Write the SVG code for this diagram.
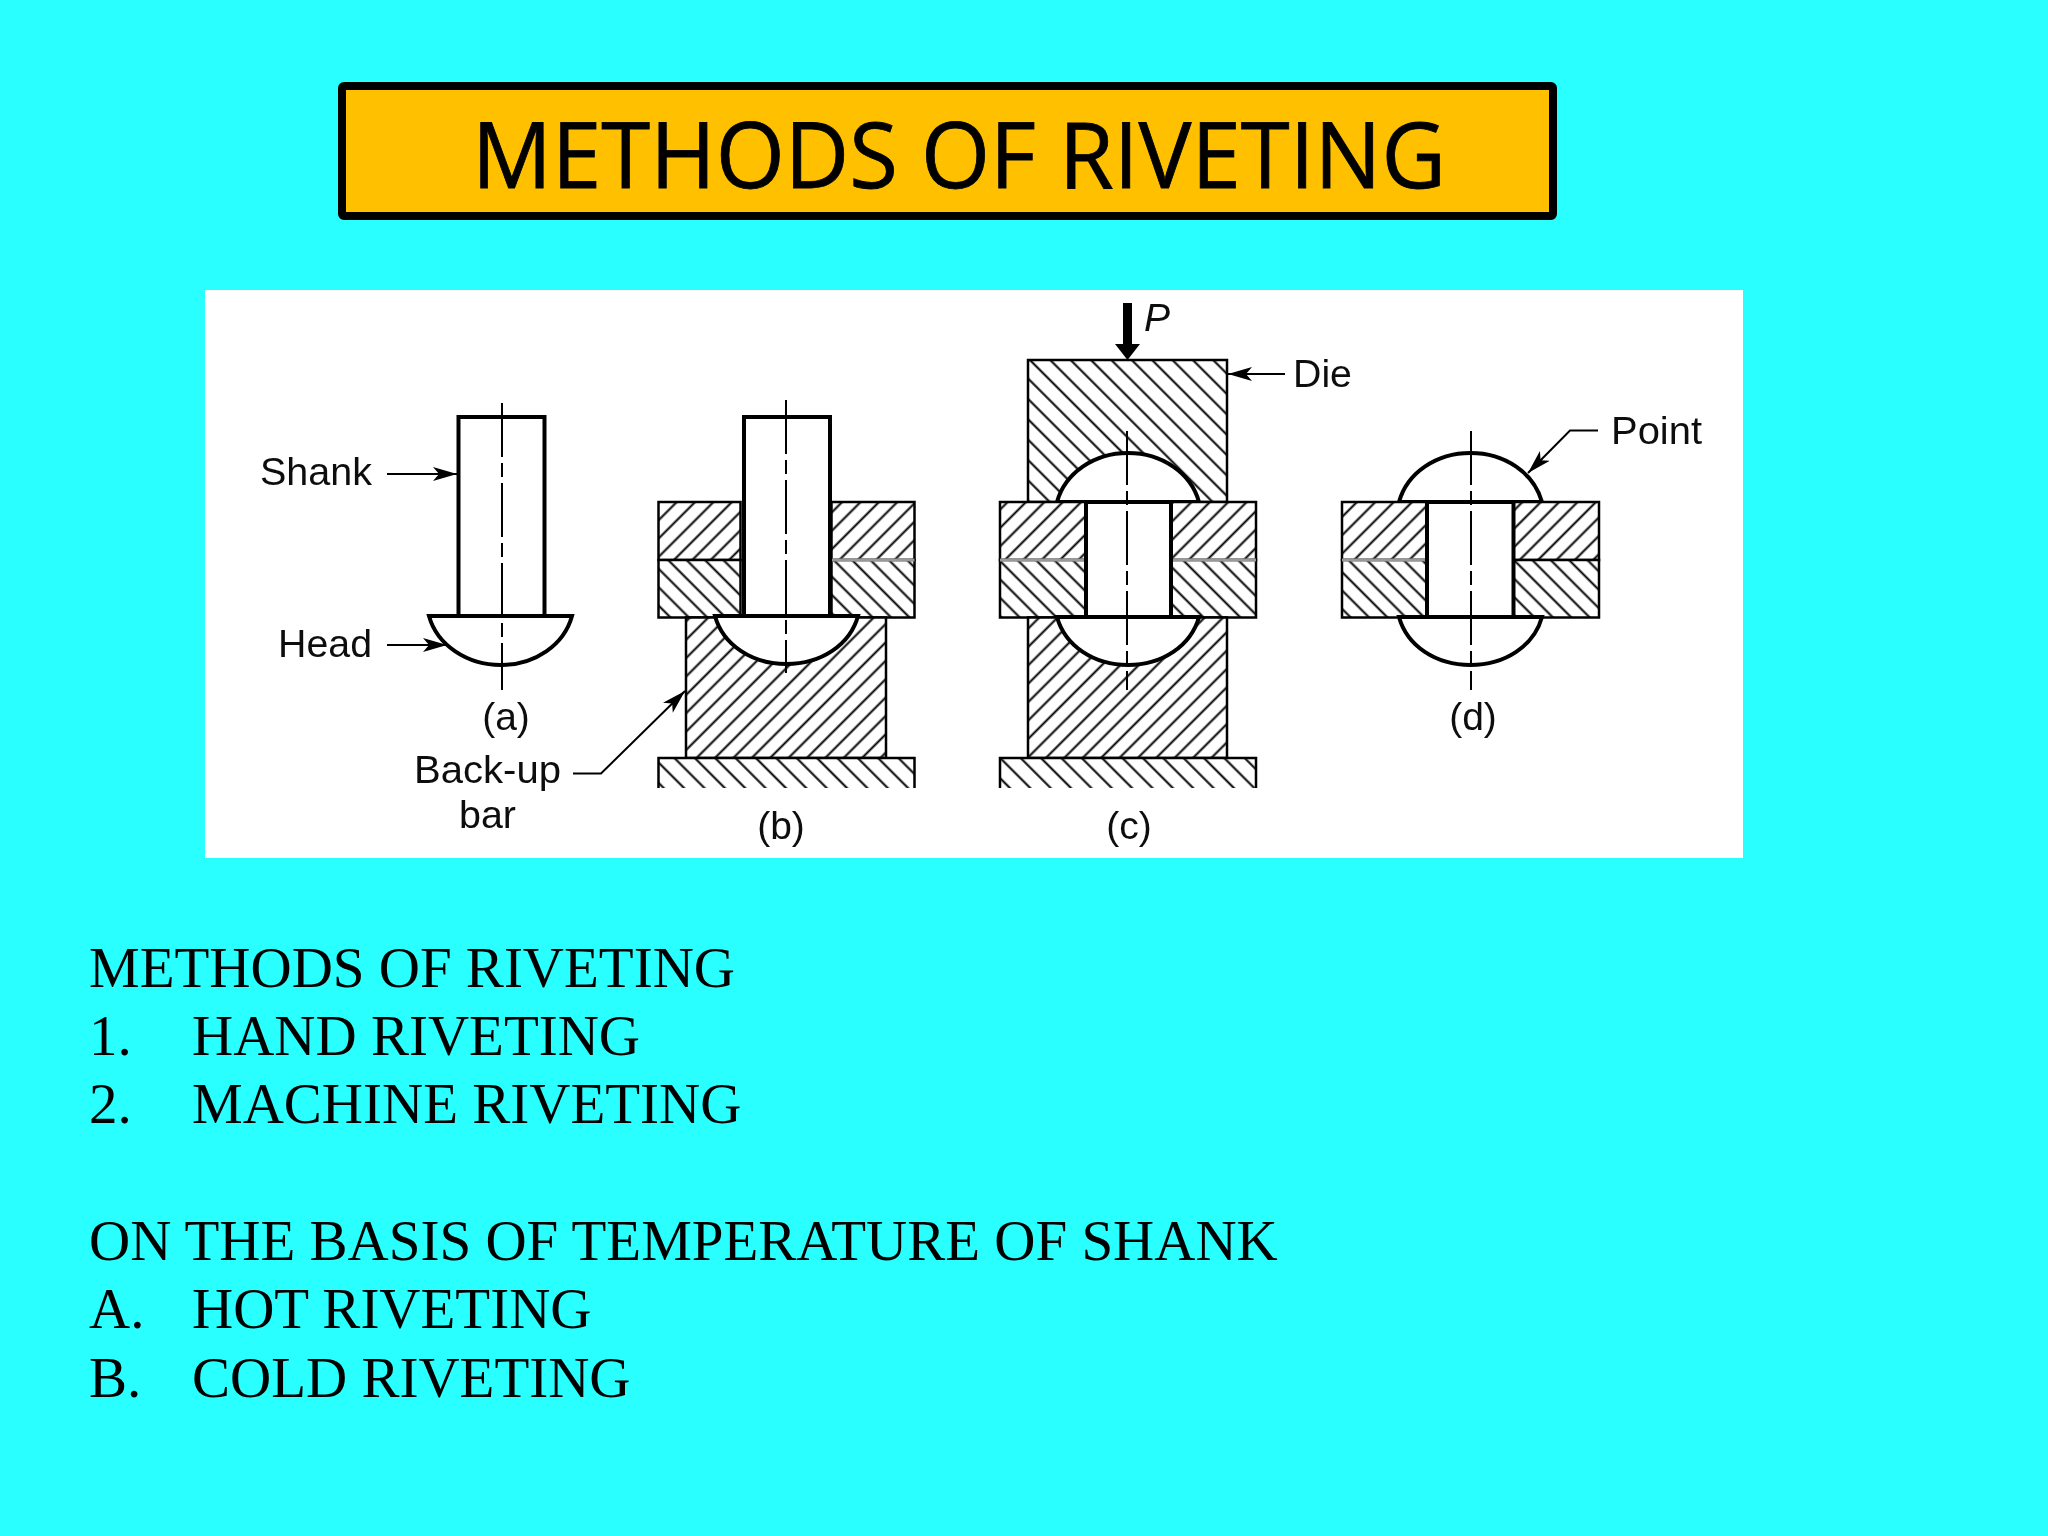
<svg xmlns="http://www.w3.org/2000/svg" width="2048" height="1536" viewBox="0 0 2048 1536">
<style>
.lbl{font-family:"Liberation Sans",Arial,sans-serif;font-size:39px;fill:#111}
.body{font-family:"Liberation Serif","Times New Roman",serif;font-size:57px;fill:#000}
.ol{fill:none;stroke:#000;stroke-width:2.5}
.riv{fill:#fff;stroke:#000;stroke-width:4}
.cl{fill:none;stroke:#000;stroke-width:2;stroke-dasharray:54 6 14 6}
.thin{fill:none;stroke:#000;stroke-width:2}
.mid{fill:none;stroke:#999;stroke-width:3}
.soft{filter:url(#soft)}
</style>
<defs>
<filter id="soft" x="-5%" y="-5%" width="110%" height="110%"><feGaussianBlur stdDeviation="0.6"/></filter>
<pattern id="hf" patternUnits="userSpaceOnUse" width="13" height="13" patternTransform="rotate(-45)"><rect width="13" height="13" fill="#fff"/><line x1="0" y1="1.500" x2="13" y2="1.500" stroke="#000" stroke-width="2"/></pattern>
<pattern id="hb" patternUnits="userSpaceOnUse" width="13" height="13" patternTransform="rotate(45)"><rect width="13" height="13" fill="#fff"/><line x1="0" y1="1.500" x2="13" y2="1.500" stroke="#000" stroke-width="2"/></pattern>
<pattern id="hd" patternUnits="userSpaceOnUse" width="14.400" height="14.400" patternTransform="rotate(45)"><rect width="14.400" height="14.400" fill="#fff"/><line x1="0" y1="1.500" x2="14.400" y2="1.500" stroke="#000" stroke-width="2"/></pattern>
<marker id="ah" markerWidth="26" markerHeight="16" refX="24" refY="8" orient="auto" markerUnits="userSpaceOnUse"><path d="M0 1 L24 8 L0 15 L6 8Z" fill="#000"/></marker>
</defs>
<rect width="2048" height="1536" fill="#29FFFF"/>
<g id="title"><rect x="342" y="86" width="1211" height="130" rx="2" fill="#FFC000" stroke="#000" stroke-width="8"/>
<text x="472" y="188" font-family="Open Sans,sans-serif" font-size="91" textLength="974" lengthAdjust="spacingAndGlyphs" fill="#000" stroke="#000" stroke-width="0.8">METHODS OF RIVETING</text></g>
<rect id="panel" x="205" y="290" width="1538" height="568" fill="#fff"/>
<g id="fig-a" class="soft">
<path class="riv" d="M458.500 417H544.500V616H458.500Z"/>
<path class="riv" d="M429 616H572C564 645 535 665 501 665C467 665 437 645 429 616Z"/>
<path class="cl" d="M502 403V690"/>
</g>
<g id="fig-b" class="soft">
<rect class="ol" x="658.500" y="502" width="82" height="58" style="fill:url(#hf)"/>
<rect class="ol" x="658.500" y="560" width="82" height="57.500" style="fill:url(#hb)"/>
<rect class="ol" x="831.500" y="502" width="83" height="58" style="fill:url(#hf)"/>
<rect class="ol" x="831.500" y="560" width="83" height="57.500" style="fill:url(#hb)"/>
<path class="mid" d="M831.500 560H914.500"/>
<rect class="ol" x="686" y="617.500" width="200" height="140.500" style="fill:url(#hf)"/>
<path d="M658.500 758H914.500V788H658.500Z" fill="url(#hd)"/><path class="ol" d="M658.500 788V758H914.500V788"/>
<path class="riv" d="M744 417H830V616H744Z"/>
<path class="riv" d="M715 616H858C850 645 821 664 786.500 664C752 664 723 645 715 616Z"/>
<path class="cl" d="M786 400V673"/>
</g>
<g id="fig-c" class="soft">
<rect class="ol" x="1028" y="360" width="199" height="142" style="fill:url(#hd)"/>
<path class="riv" d="M1057 502C1065 473 1094 453 1128 453C1162 453 1191 473 1199 502Z"/>
<rect class="ol" x="1000" y="502" width="86" height="58" style="fill:url(#hf)"/>
<rect class="ol" x="1000" y="560" width="86" height="57.500" style="fill:url(#hb)"/>
<rect class="ol" x="1171" y="502" width="85" height="58" style="fill:url(#hf)"/>
<rect class="ol" x="1171" y="560" width="85" height="57.500" style="fill:url(#hb)"/>
<path class="mid" d="M1000 560H1086M1171 560H1256"/>
<rect class="ol" x="1028" y="617.500" width="199" height="140.500" style="fill:url(#hf)"/>
<path class="riv" d="M1057 617H1199C1191 646 1162 665 1128 665C1094 665 1065 646 1057 617Z"/>
<path d="M1000 758H1256V788H1000Z" fill="url(#hd)"/><path class="ol" d="M1000 788V758H1256V788"/>
<path class="riv" d="M1086 502H1171V617H1086Z"/>
<path class="cl" d="M1127 431V690"/>
<path d="M1123 303H1132V344H1140L1127.500 360L1115 344H1123Z" fill="#000"/>
</g>
<g id="fig-d" class="soft">
<path class="riv" d="M1399 502C1407 473 1436 453 1470.500 453C1505 453 1534 473 1542 502Z"/>
<rect class="ol" x="1342" y="502" width="85" height="58" style="fill:url(#hf)"/>
<rect class="ol" x="1342" y="560" width="85" height="57.500" style="fill:url(#hb)"/>
<rect class="ol" x="1513.500" y="502" width="85.500" height="58" style="fill:url(#hf)"/>
<rect class="ol" x="1513.500" y="560" width="85.500" height="57.500" style="fill:url(#hb)"/>
<path class="mid" d="M1342 560H1427"/>
<path class="riv" d="M1399 617H1542C1534 646 1505 665 1470.500 665C1436 665 1407 646 1399 617Z"/>
<path class="riv" d="M1427 502H1513.500V617H1427Z"/>
<path class="cl" d="M1471 431V690"/>
</g>
<g id="connectors" class="soft">
<path class="thin" d="M387 474H457" marker-end="url(#ah)"/>
<path class="thin" d="M387 645H447" marker-end="url(#ah)"/>
<path class="thin" d="M573 773.500H601L685 691" marker-end="url(#ah)"/>
<path class="thin" d="M1285 374H1228" marker-end="url(#ah)"/>
<path class="thin" d="M1598 430.500H1570L1528 473" marker-end="url(#ah)"/>
</g>
<g id="labels" class="soft">
<text class="lbl" x="260" y="485" textLength="112" lengthAdjust="spacingAndGlyphs">Shank</text>
<text class="lbl" x="278" y="657" textLength="94" lengthAdjust="spacingAndGlyphs">Head</text>
<text class="lbl" x="414" y="783" textLength="147" lengthAdjust="spacingAndGlyphs">Back-up</text>
<text class="lbl" x="459" y="828" textLength="57" lengthAdjust="spacingAndGlyphs">bar</text>
<text class="lbl" x="506" y="730" text-anchor="middle">(a)</text>
<text class="lbl" x="781" y="839" text-anchor="middle">(b)</text>
<text class="lbl" x="1129" y="839" text-anchor="middle">(c)</text>
<text class="lbl" x="1473" y="730" text-anchor="middle">(d)</text>
<text class="lbl" x="1293" y="387" textLength="59" lengthAdjust="spacingAndGlyphs">Die</text>
<text class="lbl" x="1611" y="444" textLength="91" lengthAdjust="spacingAndGlyphs">Point</text>
<text class="lbl" x="1144" y="331" font-style="italic">P</text>
</g>
<g id="body">
<text class="body" x="89" y="987">METHODS OF RIVETING</text>
<text class="body" x="89" y="1055">1.</text><text class="body" x="192" y="1055">HAND RIVETING</text>
<text class="body" x="89" y="1123">2.</text><text class="body" x="192" y="1123">MACHINE RIVETING</text>
<text class="body" x="89" y="1260">ON THE BASIS OF TEMPERATURE OF SHANK</text>
<text class="body" x="89" y="1328">A.</text><text class="body" x="192" y="1328">HOT RIVETING</text>
<text class="body" x="89" y="1397">B.</text><text class="body" x="192" y="1397">COLD RIVETING</text>
</g>
</svg>
